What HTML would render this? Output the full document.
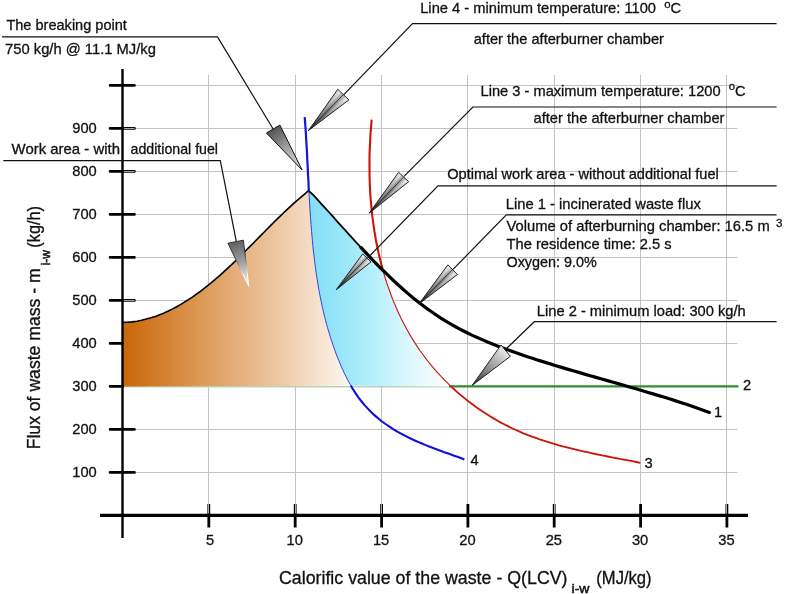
<!DOCTYPE html>
<html><head><meta charset="utf-8"><title>Chart</title>
<style>html,body{margin:0;padding:0;background:#fff}svg{display:block}text{font-family:"Liberation Sans",Arial,sans-serif;fill:#111;stroke:#111;stroke-width:0.3px}</style></head><body>
<svg width="785" height="594" viewBox="0 0 785 594">
<defs>
<linearGradient id="gO" gradientUnits="userSpaceOnUse" x1="123" y1="0" x2="350" y2="0">
<stop offset="0" stop-color="#c96608"/><stop offset="0.35" stop-color="#dd9a58"/><stop offset="0.7" stop-color="#eecaa8"/><stop offset="1" stop-color="#fdf6ee"/></linearGradient>
<linearGradient id="gB" gradientUnits="userSpaceOnUse" x1="310" y1="0" x2="450" y2="0">
<stop offset="0" stop-color="#84def6"/><stop offset="0.2" stop-color="#96e5f8"/><stop offset="0.43" stop-color="#b2eefb"/><stop offset="0.65" stop-color="#d4f6fd"/><stop offset="0.86" stop-color="#f0fbfe"/><stop offset="1" stop-color="#ffffff"/></linearGradient>
<linearGradient id="gA" x1="0" y1="0" x2="1" y2="0">
<stop offset="0" stop-color="#555"/><stop offset="0.5" stop-color="#aaa"/><stop offset="1" stop-color="#eee"/></linearGradient>
</defs>
<rect width="785" height="594" fill="#fff"/>
<path d="M208.5 75V515M295.5 75V515M381.5 75V515M467.5 75V515M554.5 75V515M640.5 75V515M726.5 75V515M122.5 472.5H737.5M122.5 429.5H737.5M122.5 386.5H737.5M122.5 343.5H737.5M122.5 300.5H737.5M122.5 257.5H737.5M122.5 214.5H737.5M122.5 171.5H737.5M122.5 128.5H737.5M122.5 85.5H737.5" stroke="#c2c2c6" stroke-width="1" fill="none"/>
<path d="M122.5 387 L122.5 322.2 L127.3 322.3 L132.1 321.9 L136.9 321.2 L141.6 320.2 L146.2 319.1 L150.8 317.8 L155.3 316.4 L159.7 314.7 L164.1 312.9 L168.3 311.0 L172.6 308.9 L176.7 306.7 L180.8 304.4 L184.8 301.9 L188.8 299.4 L192.7 296.8 L196.6 294.0 L200.4 291.3 L204.2 288.4 L207.9 285.5 L211.6 282.4 L215.2 279.4 L218.8 276.3 L222.4 273.1 L225.9 269.9 L229.4 266.6 L232.9 263.3 L236.4 260.0 L239.8 256.6 L243.2 253.2 L246.6 249.8 L250.0 246.4 L253.4 243.0 L256.8 239.5 L260.1 236.1 L263.5 232.7 L266.9 229.3 L270.3 225.9 L273.6 222.5 L277.0 219.1 L280.5 215.8 L283.9 212.5 L287.3 209.3 L290.8 206.1 L294.3 202.9 L297.8 199.8 L301.3 196.8 L304.9 193.8 L308.5 190.6 L308.5 190.6 L309.0 193.0 L309.2 196.5 L309.4 200.0 L309.6 203.5 L309.8 207.0 L310.0 210.5 L310.3 214.0 L310.5 217.5 L310.8 221.0 L311.0 224.5 L311.3 228.0 L311.6 231.5 L311.9 235.0 L312.2 238.4 L312.5 241.9 L312.8 245.4 L313.2 248.9 L313.6 252.4 L314.0 255.9 L314.4 259.3 L314.8 262.8 L315.3 266.3 L315.7 269.7 L316.2 273.2 L316.7 276.6 L317.3 280.1 L317.8 283.5 L318.4 287.0 L319.0 290.4 L319.6 293.8 L320.3 297.2 L321.0 300.6 L321.7 304.0 L322.4 307.4 L323.2 310.8 L324.0 314.2 L324.8 317.6 L325.7 320.9 L326.6 324.3 L327.5 327.6 L328.5 330.9 L329.5 334.3 L330.5 337.6 L331.6 340.9 L332.7 344.2 L333.8 347.4 L335.0 350.7 L336.2 354.0 L337.4 357.2 L338.7 360.4 L340.1 363.7 L341.4 366.9 L342.9 370.0 L344.3 373.2 L345.9 376.3 L347.4 379.4 L349.1 382.5 L350.8 385.5 Z" fill="url(#gO)"/>
<path d="M308.5 190.6 L309.0 193.0 L309.2 196.5 L309.4 200.0 L309.6 203.5 L309.8 207.0 L310.0 210.5 L310.3 214.0 L310.5 217.5 L310.8 221.0 L311.0 224.5 L311.3 228.0 L311.6 231.5 L311.9 235.0 L312.2 238.4 L312.5 241.9 L312.8 245.4 L313.2 248.9 L313.6 252.4 L314.0 255.9 L314.4 259.3 L314.8 262.8 L315.3 266.3 L315.7 269.7 L316.2 273.2 L316.7 276.6 L317.3 280.1 L317.8 283.5 L318.4 287.0 L319.0 290.4 L319.6 293.8 L320.3 297.2 L321.0 300.6 L321.7 304.0 L322.4 307.4 L323.2 310.8 L324.0 314.2 L324.8 317.6 L325.7 320.9 L326.6 324.3 L327.5 327.6 L328.5 330.9 L329.5 334.3 L330.5 337.6 L331.6 340.9 L332.7 344.2 L333.8 347.4 L335.0 350.7 L336.2 354.0 L337.4 357.2 L338.7 360.4 L340.1 363.7 L341.4 366.9 L342.9 370.0 L344.3 373.2 L345.9 376.3 L347.4 379.4 L349.1 382.5 L350.8 385.5 L450.2 387 L450.2 385.6 L447.2 382.7 L444.2 379.8 L441.3 376.7 L438.5 373.7 L435.7 370.6 L433.0 367.4 L430.3 364.2 L427.7 361.0 L425.2 357.7 L422.7 354.3 L420.3 351.0 L418.0 347.6 L415.7 344.1 L413.5 340.6 L411.3 337.1 L409.2 333.6 L407.2 330.0 L405.2 326.3 L403.3 322.7 L401.4 319.0 L399.6 315.3 L397.9 311.5 L396.2 307.7 L394.6 303.9 L393.0 300.1 L391.5 296.2 L390.1 292.3 L388.7 288.4 L387.3 284.5 L386.0 280.5 L384.8 276.6 L383.6 272.6 L382.5 268.5 L381.6 269.0 L377.4 264.8 L373.2 260.5 L369.1 256.2 L365.0 251.8 L360.9 247.4 L356.8 243.0 L352.8 238.6 L348.7 234.2 L344.7 229.7 L340.7 225.3 L336.7 220.9 L332.8 216.4 L328.8 212.0 L324.8 207.6 L320.8 203.3 L316.9 198.9 L312.9 194.6 L308.5 190.6 Z" fill="url(#gB)"/>
<path d="M123 387H449" stroke="#b9d9b0" stroke-width="1" fill="none"/>
<path d="M449 386.3H738.5" stroke="#2f8f2f" stroke-width="2.2" fill="none"/>
<path d="M304.7 117.2 L305.0 120.6 L305.2 124.0 L305.5 127.4 L305.7 130.8 L305.9 134.2 L306.1 137.6 L306.3 141.0 L306.5 144.5 L306.7 147.9 L306.9 151.3 L307.1 154.8 L307.2 158.3 L307.4 161.7 L307.6 165.2 L307.8 168.6 L307.9 172.1 L308.1 175.6 L308.3 179.1 L308.5 182.6 L308.6 186.0 L308.8 189.5 L308.5 190.6" stroke="#1414e0" stroke-width="2.2" fill="none"/>
<path d="M308.5 190.6 L309.0 193.0 L309.2 196.5 L309.4 200.0 L309.6 203.5 L309.8 207.0 L310.0 210.5 L310.3 214.0 L310.5 217.5 L310.8 221.0 L311.0 224.5 L311.3 228.0 L311.6 231.5 L311.9 235.0 L312.2 238.4 L312.5 241.9 L312.8 245.4 L313.2 248.9 L313.6 252.4 L314.0 255.9 L314.4 259.3 L314.8 262.8 L315.3 266.3 L315.7 269.7 L316.2 273.2 L316.7 276.6 L317.3 280.1 L317.8 283.5 L318.4 287.0 L319.0 290.4 L319.6 293.8 L320.3 297.2 L321.0 300.6 L321.7 304.0 L322.4 307.4 L323.2 310.8 L324.0 314.2 L324.8 317.6 L325.7 320.9 L326.6 324.3 L327.5 327.6 L328.5 330.9 L329.5 334.3 L330.5 337.6 L331.6 340.9 L332.7 344.2 L333.8 347.4 L335.0 350.7 L336.2 354.0 L337.4 357.2 L338.7 360.4 L340.1 363.7 L341.4 366.9 L342.9 370.0 L344.3 373.2 L345.9 376.3 L347.4 379.4 L349.1 382.5 L350.8 385.5" stroke="#2a2ad0" stroke-width="0.9" fill="none"/>
<path d="M350.8 385.5 L352.5 388.5 L354.4 391.4 L356.3 394.3 L358.2 397.1 L360.3 399.8 L362.4 402.5 L364.6 405.1 L366.9 407.6 L369.2 410.1 L371.6 412.5 L374.1 414.9 L376.7 417.1 L379.3 419.3 L382.0 421.5 L384.8 423.5 L387.7 425.5 L390.6 427.4 L393.5 429.3 L396.5 431.1 L399.6 432.8 L402.7 434.5 L405.8 436.1 L409.0 437.7 L412.2 439.2 L415.4 440.7 L418.6 442.1 L421.9 443.5 L425.2 444.9 L428.5 446.2 L431.8 447.5 L435.1 448.8 L438.4 450.0 L441.7 451.2 L445.0 452.4 L448.3 453.6 L451.6 454.8 L454.8 455.9 L458.1 457.1 L461.3 458.2 L464.4 459.4" stroke="#1010dc" stroke-width="2.1" fill="none"/>
<path d="M371.7 119.6 L371.3 123.6 L371.0 127.7 L370.7 131.7 L370.4 135.8 L370.2 139.9 L370.0 144.1 L369.8 148.2 L369.6 152.3 L369.5 156.5 L369.5 160.7 L369.5 164.8 L369.5 169.0 L369.5 173.2 L369.6 177.4 L369.7 181.5 L369.9 185.7 L370.1 189.9 L370.3 194.1 L370.6 198.3 L371.0 202.5 L371.3 206.7 L371.8 210.9 L372.2 215.0 L372.7 219.2 L373.3 223.4 L373.9 227.5 L374.5 231.7 L375.2 235.8 L375.9 240.0 L376.7 244.1 L377.6 248.2 L378.4 252.3 L379.4 256.4 L380.4 260.5 L381.4 264.5 L382.5 268.5" stroke="#cc1408" stroke-width="2.1" fill="none"/>
<path d="M382.5 268.5 L383.6 272.6 L384.8 276.6 L386.0 280.5 L387.3 284.5 L388.7 288.4 L390.1 292.3 L391.5 296.2 L393.0 300.1 L394.6 303.9 L396.2 307.7 L397.9 311.5 L399.6 315.3 L401.4 319.0 L403.3 322.7 L405.2 326.3 L407.2 330.0 L409.2 333.6 L411.3 337.1 L413.5 340.6 L415.7 344.1 L418.0 347.6 L420.3 351.0 L422.7 354.3 L425.2 357.7 L427.7 361.0 L430.3 364.2 L433.0 367.4 L435.7 370.6 L438.5 373.7 L441.3 376.7 L444.2 379.8 L447.2 382.7 L450.2 385.6" stroke="#cc1408" stroke-width="1.1" fill="none"/>
<path d="M450.2 385.6 L453.3 388.5 L456.4 391.3 L459.5 394.1 L462.7 396.8 L466.0 399.4 L469.3 402.0 L472.7 404.5 L476.0 407.0 L479.5 409.4 L483.0 411.8 L486.5 414.1 L490.0 416.3 L493.6 418.4 L497.2 420.5 L500.9 422.6 L504.6 424.5 L508.3 426.4 L512.0 428.2 L515.8 430.0 L519.6 431.6 L523.4 433.3 L527.3 434.8 L531.2 436.3 L535.1 437.7 L539.0 439.1 L542.9 440.4 L546.9 441.7 L550.9 442.9 L554.9 444.1 L558.9 445.3 L562.9 446.4 L566.9 447.4 L571.0 448.4 L575.0 449.4 L579.1 450.4 L583.2 451.3 L587.2 452.2 L591.3 453.1 L595.4 454.0 L599.5 454.8 L603.6 455.7 L607.7 456.5 L611.8 457.3 L615.9 458.1 L620.0 458.9 L624.1 459.6 L628.1 460.4 L632.2 461.2 L636.3 462.0 L640.3 462.8" stroke="#cc1408" stroke-width="1.8" fill="none"/>
<path d="M122.5 322.2 L127.3 322.3 L132.1 321.9 L136.9 321.2 L141.6 320.2 L146.2 319.1 L150.8 317.8 L155.3 316.4 L159.7 314.7 L164.1 312.9 L168.3 311.0 L172.6 308.9 L176.7 306.7 L180.8 304.4 L184.8 301.9 L188.8 299.4 L192.7 296.8 L196.6 294.0 L200.4 291.3 L204.2 288.4 L207.9 285.5 L211.6 282.4 L215.2 279.4 L218.8 276.3 L222.4 273.1 L225.9 269.9 L229.4 266.6 L232.9 263.3 L236.4 260.0 L239.8 256.6 L243.2 253.2 L246.6 249.8 L250.0 246.4 L253.4 243.0 L256.8 239.5 L260.1 236.1 L263.5 232.7 L266.9 229.3 L270.3 225.9 L273.6 222.5 L277.0 219.1 L280.5 215.8 L283.9 212.5 L287.3 209.3 L290.8 206.1 L294.3 202.9 L297.8 199.8 L301.3 196.8 L304.9 193.8 L308.5 190.6" stroke="#000" stroke-width="1.6" fill="none"/>
<path d="M308.5 190.6 L312.9 194.6 L316.9 198.9 L320.8 203.3 L324.8 207.6 L328.8 212.0 L332.8 216.4 L336.7 220.9 L340.7 225.3 L344.7 229.7 L348.7 234.2 L352.8 238.6 L356.8 243.0 L360.9 247.4" stroke="#000" stroke-width="1.8" fill="none" stroke-linejoin="round"/>
<path d="M360.9 247.4 L365.0 251.8 L369.1 256.2 L373.2 260.5 L377.4 264.8 L381.6 269.0 L385.9 273.2 L390.2 277.4 L394.5 281.5 L398.9 285.5 L403.3 289.5 L407.8 293.4 L412.3 297.2 L416.9 300.9 L421.6 304.5 L426.3 308.1 L431.1 311.5 L435.9 314.8 L440.8 318.1 L445.8 321.2 L450.9 324.2 L456.0 327.0 L461.2 329.8 L466.5 332.5 L471.8 335.1 L477.2 337.5 L482.7 339.9 L488.1 342.3 L493.7 344.5 L499.2 346.7 L504.8 348.8 L510.4 350.8 L516.1 352.8 L521.7 354.8 L527.4 356.7 L533.1 358.5 L538.8 360.4 L544.5 362.1 L550.2 363.9 L555.9 365.7 L561.6 367.4 L567.3 369.1 L573.1 370.8 L578.8 372.4 L584.5 374.1 L590.2 375.7 L596.0 377.4 L601.7 379.0 L607.4 380.6 L613.2 382.3 L618.9 383.9 L624.6 385.5 L630.3 387.2 L636.0 388.8 L641.7 390.5 L647.4 392.2 L653.1 393.9 L658.8 395.6 L664.5 397.3 L670.1 399.1 L675.8 400.9 L681.4 402.7 L687.1 404.6 L692.7 406.5 L698.3 408.4 L703.8 410.4 L709.4 412.4" stroke="#000" stroke-width="3.2" fill="none" stroke-linecap="round"/>
<path d="M122.5 69V538" stroke="#000" stroke-width="2.4" fill="none"/>
<path d="M100 515.4H748" stroke="#000" stroke-width="3.2" fill="none"/>
<path d="M110 472.4H134.5M110 429.4H134.5M110 386.4H122.5M110 343.4H122.5M110 300.4H134.5M110 257.4H134.5M110 214.4H134.5M110 171.4H134.5M110 128.4H134.5M110 85.4H134.5" stroke="#000" stroke-width="2.6" fill="none" stroke-linecap="round"/>
<path d="M208.8 504V527.5M295.2 504V527.5M381.6 504V527.5M467.9 504V527.5M554.2 504V527.5M640.6 504V527.5M726.9 504V527.5" stroke="#000" stroke-width="2.8" fill="none"/>
<path d="M208.5 504V513.5M295.5 504V513.5M381.5 504V513.5M554.5 504V513.5M726.5 504V513.5M124 300.5H134.5M124 171.5H134.5M124 128.5H134.5" stroke="#a4a4a4" stroke-width="1" fill="none"/>
<text x="96.8" y="477.4" font-size="14.7" text-anchor="end">100</text>
<text x="96.8" y="434.4" font-size="14.7" text-anchor="end">200</text>
<text x="96.8" y="391.4" font-size="14.7" text-anchor="end">300</text>
<text x="96.8" y="348.4" font-size="14.7" text-anchor="end">400</text>
<text x="96.8" y="305.4" font-size="14.7" text-anchor="end">500</text>
<text x="96.8" y="262.4" font-size="14.7" text-anchor="end">600</text>
<text x="96.8" y="219.4" font-size="14.7" text-anchor="end">700</text>
<text x="96.8" y="176.4" font-size="14.7" text-anchor="end">800</text>
<text x="96.8" y="133.4" font-size="14.7" text-anchor="end">900</text>
<text x="210.0" y="544.8" font-size="14.7" text-anchor="middle">5</text>
<text x="294.7" y="544.8" font-size="14.7" text-anchor="middle">10</text>
<text x="381.1" y="544.8" font-size="14.7" text-anchor="middle">15</text>
<text x="467.4" y="544.8" font-size="14.7" text-anchor="middle">20</text>
<text x="553.8" y="544.8" font-size="14.7" text-anchor="middle">25</text>
<text x="640.1" y="544.8" font-size="14.7" text-anchor="middle">30</text>
<text x="726.4" y="544.8" font-size="14.7" text-anchor="middle">35</text>
<text x="470.5" y="465.2" font-size="14.7">4</text>
<text x="644.5" y="467.5" font-size="14.7">3</text>
<text x="714" y="417.2" font-size="14.7">1</text>
<text x="743" y="389.8" font-size="14.7">2</text>
<path d="M2 36.9H217.5L273 128.8M3.3 160.7H220.3L236.3 241.3M776.6 23.7H412.5L343.6 94.8M776.6 107H472.9L404 176.4M776.6 185.9H438L367.7 257.9M776.6 214.9H506.3L453 269.4M776.6 321.7H534.3L505.7 349.3" stroke="#111" stroke-width="1.2" fill="none"/>
<linearGradient id="a1" gradientUnits="userSpaceOnUse" x1="273.1" y1="129.1" x2="302.1" y2="170.0"><stop offset="0" stop-color="#555"/><stop offset="0.5" stop-color="#a6a6a6"/><stop offset="1" stop-color="#e0e0e0"/></linearGradient>
<linearGradient id="s1" gradientUnits="userSpaceOnUse" x1="273.1" y1="129.1" x2="302.1" y2="170.0"><stop offset="0" stop-color="#111"/><stop offset="0.3" stop-color="#111"/><stop offset="0.75" stop-color="#111"/></linearGradient>
<path d="M302.1 170.0 L266.4 133.0 L279.9 125.1 Z" fill="url(#a1)" stroke="url(#s1)" stroke-width="1" stroke-linejoin="round"/>
<linearGradient id="a2" gradientUnits="userSpaceOnUse" x1="235.7" y1="241.7" x2="248.8" y2="286.3"><stop offset="0" stop-color="#606060"/><stop offset="0.5" stop-color="#a6a6a6"/><stop offset="1" stop-color="#ffffff"/></linearGradient>
<linearGradient id="s2" gradientUnits="userSpaceOnUse" x1="235.7" y1="241.7" x2="248.8" y2="286.3"><stop offset="0" stop-color="#333"/><stop offset="0.3" stop-color="#333"/><stop offset="0.75" stop-color="#ffffff"/></linearGradient>
<path d="M248.8 286.3 L227.9 243.2 L243.4 240.2 Z" fill="url(#a2)" stroke="url(#s2)" stroke-width="1" stroke-linejoin="round"/>
<linearGradient id="a3" gradientUnits="userSpaceOnUse" x1="308.5" y1="130.5" x2="343.4" y2="94.6"><stop offset="0" stop-color="#222"/><stop offset="0.35" stop-color="#777"/><stop offset="1" stop-color="#e8e8e8"/></linearGradient>
<path d="M308.5 130.5 L337.8 89.3 L348.9 99.9 Z" fill="url(#a3)" stroke="#111" stroke-width="0.9" stroke-linejoin="round"/>
<path d="M308.5 130.5 L341.1 92.5 L345.6 96.7 Z" fill="#000" fill-opacity="0.18"/>
<path d="M308.5 130.5 L343.4 94.6" stroke="#222" stroke-width="0.9" fill="none"/>
<linearGradient id="a4" gradientUnits="userSpaceOnUse" x1="369.3" y1="213.1" x2="403.6" y2="177.0"><stop offset="0" stop-color="#222"/><stop offset="0.35" stop-color="#777"/><stop offset="1" stop-color="#e8e8e8"/></linearGradient>
<path d="M369.3 213.1 L398.6 172.3 L408.7 181.7 Z" fill="url(#a4)" stroke="#111" stroke-width="0.9" stroke-linejoin="round"/>
<path d="M369.3 213.1 L401.6 175.1 L405.7 178.9 Z" fill="#000" fill-opacity="0.18"/>
<path d="M369.3 213.1 L403.6 177.0" stroke="#222" stroke-width="0.9" fill="none"/>
<linearGradient id="a5" gradientUnits="userSpaceOnUse" x1="336.3" y1="289.7" x2="366.9" y2="257.9"><stop offset="0" stop-color="#222"/><stop offset="0.35" stop-color="#777"/><stop offset="1" stop-color="#e8e8e8"/></linearGradient>
<path d="M336.3 289.7 L362.7 253.9 L371.0 261.9 Z" fill="url(#a5)" stroke="#111" stroke-width="0.9" stroke-linejoin="round"/>
<path d="M336.3 289.7 L365.2 256.3 L368.5 259.5 Z" fill="#000" fill-opacity="0.18"/>
<path d="M336.3 289.7 L366.9 257.9" stroke="#222" stroke-width="0.9" fill="none"/>
<linearGradient id="a6" gradientUnits="userSpaceOnUse" x1="418.8" y1="304.1" x2="452.6" y2="269.6"><stop offset="0" stop-color="#222"/><stop offset="0.35" stop-color="#777"/><stop offset="1" stop-color="#e8e8e8"/></linearGradient>
<path d="M418.8 304.1 L447.9 264.8 L457.4 274.5 Z" fill="url(#a6)" stroke="#111" stroke-width="0.9" stroke-linejoin="round"/>
<path d="M418.8 304.1 L450.8 267.7 L454.5 271.6 Z" fill="#000" fill-opacity="0.18"/>
<path d="M418.8 304.1 L452.6 269.6" stroke="#222" stroke-width="0.9" fill="none"/>
<linearGradient id="a7" gradientUnits="userSpaceOnUse" x1="472.2" y1="385.4" x2="505.7" y2="350.6"><stop offset="0" stop-color="#222"/><stop offset="0.35" stop-color="#777"/><stop offset="1" stop-color="#e8e8e8"/></linearGradient>
<path d="M472.2 385.4 L501.0 345.0 L510.4 356.3 Z" fill="url(#a7)" stroke="#111" stroke-width="0.9" stroke-linejoin="round"/>
<text x="6.4" y="29.5" font-size="14.8" textLength="120.5" lengthAdjust="spacingAndGlyphs" >The breaking point</text>
<text x="5.1" y="54.2" font-size="14.8" textLength="150.8" lengthAdjust="spacingAndGlyphs" >750 kg/h @ 11.1 MJ/kg</text>
<text x="11.6" y="153.9" font-size="14.8" textLength="108.4" lengthAdjust="spacingAndGlyphs" >Work area - with</text>
<text x="130.6" y="153.8" font-size="14.8" textLength="87.4" lengthAdjust="spacingAndGlyphs" >additional fuel</text>
<text x="420.2" y="12.7" font-size="14.8" textLength="261.0" lengthAdjust="spacingAndGlyphs" >Line 4 - minimum temperature: 1100&#160; <tspan font-size="11.5" dy="-4.5">o</tspan><tspan dy="4.5">C</tspan></text>
<text x="473.7" y="43.8" font-size="14.8" textLength="190.3" lengthAdjust="spacingAndGlyphs" >after the afterburner chamber</text>
<text x="480.6" y="96.3" font-size="14.8" textLength="265.0" lengthAdjust="spacingAndGlyphs" >Line 3 - maximum temperature: 1200&#160; <tspan font-size="11.5" dy="-6">o</tspan><tspan dy="6">C</tspan></text>
<text x="533.5" y="122.8" font-size="14.8" textLength="191.0" lengthAdjust="spacingAndGlyphs" >after the afterburner chamber</text>
<text x="447.2" y="178.7" font-size="14.8" textLength="271.6" lengthAdjust="spacingAndGlyphs" >Optimal work area - without additional fuel</text>
<text x="505.8" y="208.8" font-size="14.8" textLength="195.0" lengthAdjust="spacingAndGlyphs" >Line 1 - incinerated waste flux</text>
<text x="506.5" y="231.0" font-size="14.8" textLength="263.2" lengthAdjust="spacingAndGlyphs" >Volume of afterburning chamber: 16.5 m</text>
<text x="776.0" y="227.4" font-size="11.5" >3</text>
<text x="506.5" y="249.0" font-size="14.8" textLength="165.0" lengthAdjust="spacingAndGlyphs" >The residence time: 2.5 s</text>
<text x="506.5" y="266.6" font-size="14.8" textLength="90.3" lengthAdjust="spacingAndGlyphs" >Oxygen: 9.0%</text>
<text x="536.8" y="315.7" font-size="14.8" textLength="209.0" lengthAdjust="spacingAndGlyphs" >Line 2 - minimum load: 300 kg/h</text>
<text x="279" y="583.9" font-size="18.2" textLength="288.5" lengthAdjust="spacingAndGlyphs">Calorific value of the waste - Q(LCV)</text>
<text x="571.5" y="592.5" font-size="13.5" textLength="18" lengthAdjust="spacingAndGlyphs" style="stroke-width:0.5px">i-w</text>
<text x="596.3" y="583.9" font-size="18.2" textLength="55.3" lengthAdjust="spacingAndGlyphs">(MJ/kg)</text>
<text transform="translate(40 449.3) rotate(-90)" font-size="17.8" textLength="180.9" lengthAdjust="spacingAndGlyphs">Flux of waste mass - m</text>
<text transform="translate(50.3 265.3) rotate(-90)" font-size="12" textLength="15.2" lengthAdjust="spacingAndGlyphs" style="stroke-width:0.5px">i-w</text>
<text transform="translate(40 247.7) rotate(-90)" font-size="17.8" textLength="41.7" lengthAdjust="spacingAndGlyphs">(kg/h)</text>
</svg></body></html>
